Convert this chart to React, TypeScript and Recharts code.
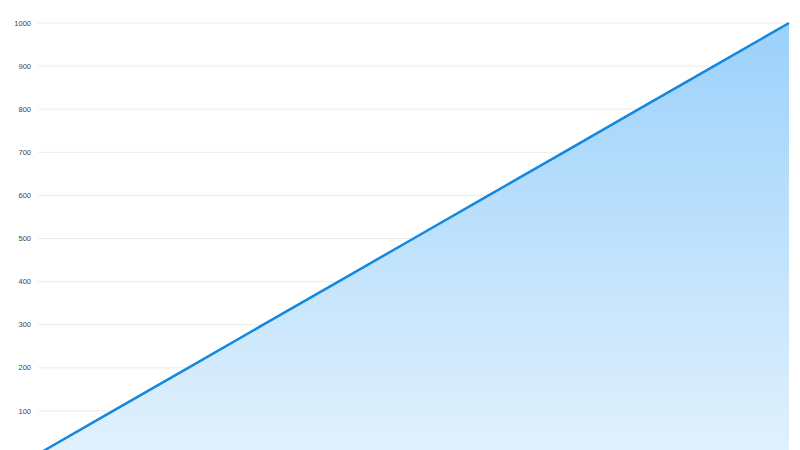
import { AreaChart, Area, XAxis, YAxis, CartesianGrid } from "recharts";

const steps = ["0", "1", "2", "3", "4", "5", "6", "7", "8", "9", "10"];
const values = [0, 100, 200, 300, 400, 500, 600, 700, 800, 900, 1000];
const yTicks = [100, 200, 300, 400, 500, 600, 700, 800, 900, 1000];

const data = steps.map((step, i) => ({ step, value: values[i] }));

export default function App() {
  return (
    <div style={{ position: "absolute", left: 0, top: 0 }}>
      <AreaChart
        width={800}
        height={454}
        data={data}
        margin={{ top: 23, right: 11, left: 0, bottom: 0 }}
      >
        <defs>
          <linearGradient id="fillValue" x1="0" y1="0" x2="0" y2="1">
            <stop offset="0%" stopColor="#9bd1fb" />
            <stop offset="100%" stopColor="#e1f1fd" />
          </linearGradient>
        </defs>
        <CartesianGrid vertical={false} stroke="#ebebeb" />
        <XAxis dataKey="step" hide />
        <YAxis
          width={38}
          domain={[0, 1000]}
          ticks={yTicks}
          interval={0}
          axisLine={false}
          tickLine={false}
          tickMargin={1}
          tick={{ fontSize: 7.5, fill: "#444", fontFamily: "Liberation Sans, Arial, sans-serif" }}
        />
        <Area
          type="linear"
          dataKey="value"
          stroke="#1487de"
          strokeWidth={2.5}
          fill="url(#fillValue)"
          fillOpacity={1}
          dot={false}
          activeDot={false}
          isAnimationActive={false}
        />
      </AreaChart>
    </div>
  );
}
